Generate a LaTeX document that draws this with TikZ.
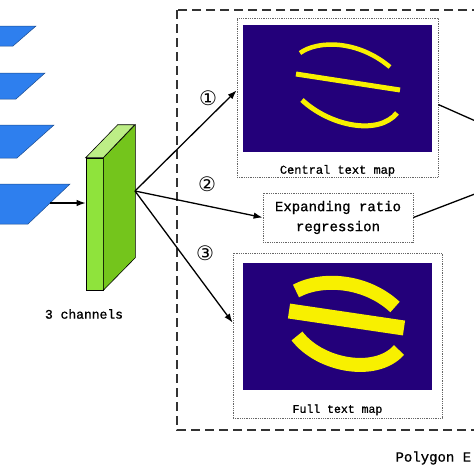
\documentclass[tikz,border=0pt]{standalone}
\usepackage{fontspec}
\setmonofont[FakeBold=1]{Liberation Mono}
\newfontfamily\circfont{DejaVu Sans}
\usetikzlibrary{positioning,arrows.meta}

\definecolor{pyrblue}{HTML}{2E7FEE}
\definecolor{frontgreen}{HTML}{8FE33C}
\definecolor{sidegreen}{HTML}{74C51C}
\definecolor{topgreen}{HTML}{BDEE86}
\definecolor{mapblue}{HTML}{23007A}
\definecolor{mapyellow}{HTML}{F8F000}

\begin{document}
\begin{tikzpicture}[x=1pt,y=-1pt,>={Latex[length=9pt,width=6.5pt]},font=\ttfamily,
    mapbox/.style={draw=gray!80!black,densely dotted,line width=0.8pt,minimum width=201pt,minimum height=159pt},
    mapimg/.style={fill=mapblue,minimum width=189pt,minimum height=127pt,inner sep=0pt},
    maplabel/.style={font=\ttfamily\fontsize{12}{14}\selectfont,inner sep=1pt},
    stream/.style={->,line width=1.3pt},
    circnum/.style={font=\circfont\fontsize{20}{22}\selectfont}]
    \useasboundingbox (0,0) rectangle (474,474);
    \clip (0,0) rectangle (474,474);
    %%%%% THE PYRAMID LEVELS
    \begin{scope}[fill=pyrblue,draw=pyrblue!60!black,line width=0.5pt]
      \filldraw (-57,26) -- (36,26) -- (13,46) -- (-80,46) -- cycle;
      \filldraw (-55,73) -- (45,73) -- (16,99) -- (-84,99) -- cycle;
      \filldraw (-50,125) -- (54,125) -- (17,158) -- (-87,158) -- cycle;
      \filldraw (-45,184) -- (70,184) -- (28,224) -- (-87,224) -- cycle;
    \end{scope}
    \coordinate (P4) at (50,203);
    %%%%% THE 3 CHANNEL BLOCK
    \node[fill=frontgreen,draw=black,line width=0.6pt,minimum width=17pt,minimum height=132pt,inner sep=0pt] (front) at (94.5,224) {};
    \filldraw[fill=sidegreen,draw=black,line width=0.6pt] (front.north east) -- ++(32,-33) -- ++(0,133) -- (front.south east) -- cycle;
    \filldraw[fill=topgreen,draw=black,line width=0.6pt] (front.north west) -- ++(32,-33) -- ++(17,0) -- (front.north east) -- cycle;
    \node[font=\ttfamily\fontsize{13}{15}\selectfont] (channels) at (84,314) {3 channels};
    \draw[stream] (P4) -- (P4 -| front.west);
    \coordinate (fan) at (135,191);
    %%%%% THE POLYGON BOX
    \draw[dashed,dash pattern=on 9pt off 5pt,line width=1.2pt,black!80] (177,10) rectangle (490,430);
    \node[mapbox] (cmap) at (337.5,97.5) {};
    \node[mapimg] (cimg) at (337.5,88.5) {};
    \node[maplabel,above=0pt of cmap.south] {Central text map};
    \node[mapbox,minimum width=209pt,minimum height=165pt] (fmap) at (337.5,335.5) {};
    \node[mapimg] (fimg) at (337.5,326.5) {};
    \node[maplabel,font=\ttfamily\fontsize{11.5}{14}\selectfont,above=2pt of fmap.south] {Full text map};
    \node[draw=gray!80!black,densely dotted,line width=0.8pt,minimum width=150pt,minimum height=49pt,
          align=center,font=\ttfamily\fontsize{14}{20}\selectfont] (ratio) at (338,217.5) {Expanding ratio\\regression};
    % Text regions in the maps
    \begin{scope}[draw=mapyellow]
      \draw[line width=4.5pt] (300,53) .. controls (318,40) and (358,40) .. (390,67);
      \draw[line width=5pt] (296,74) -- (400,90);
      \draw[line width=5pt] (302,100) .. controls (330,126) and (378,136) .. (397,113);
      \draw[line width=14pt] (296,291) .. controls (322,277) and (366,280) .. (395,307);
      \draw[line width=15pt] (289,311) -- (404,328);
      \draw[line width=14pt] (297,336) .. controls (320,366) and (376,376) .. (399,350);
    \end{scope}
    %%%%% THE ARROWS
    \draw[stream] (fan) -- (cmap.176);
    \draw[stream] (fan) -- (ratio.west);
    \draw[stream] (fan) -- (fmap.173);
    \node[circnum] at (208,98) {①};
    \node[circnum] at (207,184) {②};
    \node[circnum] at (205,253) {③};
    \coordinate (outA) at (480,123);
    \coordinate (outB) at (480,192);
    \draw[line width=1.3pt] (cmap.-4) -- (outA);
    \draw[line width=1.3pt] (ratio.east) -- (outB);
    \node[anchor=west,font=\ttfamily\fontsize{14}{16}\selectfont] at (392,458) {Polygon E};
\end{tikzpicture}
\end{document}
